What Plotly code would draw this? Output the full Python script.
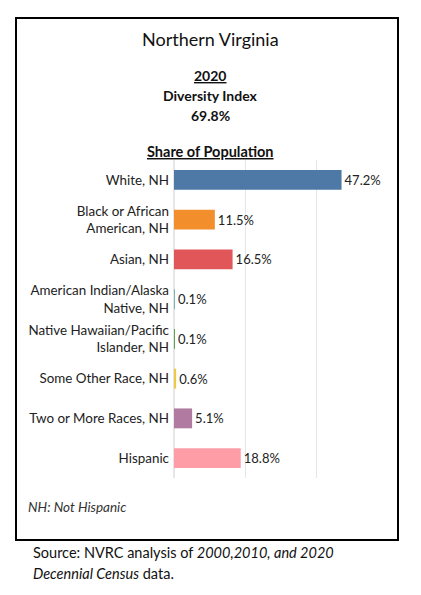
import plotly.graph_objects as go

categories = ["White, NH", "Black or African<br>American, NH", "Asian, NH",
              "American Indian/Alaska<br>Native, NH", "Native Hawaiian/Pacific<br>Islander, NH",
              "Some Other Race, NH", "Two or More Races, NH", "Hispanic"]
values = [47.2, 11.5, 16.5, 0.1, 0.1, 0.6, 5.1, 18.8]
labels = ["47.2%", "11.5%", "16.5%", "0.1%", "0.1%", "0.6%", "5.1%", "18.8%"]
colors = ["#4E79A7", "#F28E2B", "#E15759", "#76B7B2", "#59A14F", "#EDC948", "#B07AA1", "#FF9DA7"]

OFF = 8  # default page margin of the browser body
W, H = 421 - OFF, 595 - OFF
FONT = "Lato, Open Sans, sans-serif"


def xp(px):
    return (px - OFF) / W


def yp(py):
    return 1 - (py - OFF) / H


fig = go.Figure(go.Bar(
    y=categories, x=values, orientation="h",
    marker=dict(color=colors, line=dict(width=0)),
    text=labels, textposition="outside", cliponaxis=False,
    textfont=dict(size=13, color="#222", family=FONT),
    width=0.5,
))

fig.update_layout(
    width=W, height=H, margin=dict(l=0, r=0, t=0, b=0),
    paper_bgcolor="white", plot_bgcolor="white", showlegend=False,
    font=dict(family=FONT, size=13, color="#222"),
    xaxis=dict(domain=[xp(174), xp(387)], range=[0, 60], dtick=20,
               showgrid=True, gridcolor="#E6E6E6", gridwidth=1,
               showticklabels=False, zeroline=True, zerolinecolor="#E6E6E6",
               ticks="", showline=False, fixedrange=True),
    yaxis=dict(domain=[yp(478), yp(160)], autorange="reversed",
               showgrid=False, ticks="", showline=False,
               tickfont=dict(size=13.4, color="#222", family=FONT),
               ticklabelstandoff=4, fixedrange=True),
)

fig.add_shape(type="rect", xref="paper", yref="paper",
              x0=xp(16), x1=xp(398), y0=yp(540), y1=yp(18),
              line=dict(color="black", width=2), fillcolor="rgba(0,0,0,0)")

ann = [
    ("Northern Virginia", 210, 39, 18),
    ("<b><u>2020</u></b>", 210, 76, 14),
    ("<b>Diversity Index</b>", 210, 95, 14),
    ("<b>69.8%</b>", 210, 115, 14),
    ("<b><u>Share of Population</u></b>", 210, 152, 14.5),
]
for t, x, y, s in ann:
    fig.add_annotation(text=t, x=xp(x), y=yp(y),
                       xref="paper", yref="paper", showarrow=False,
                       font=dict(size=s, color="#111", family=FONT),
                       xanchor="center", yanchor="middle")

fig.add_annotation(text="<i>NH: Not Hispanic</i>", x=xp(26), y=yp(507), xref="paper", yref="paper",
                   showarrow=False, xanchor="left", yanchor="middle",
                   font=dict(size=13.5, color="#333", family=FONT))
fig.add_annotation(text="Source: NVRC analysis of <i>2000,2010, and 2020</i>",
                   x=xp(31), y=yp(552), xref="paper", yref="paper", showarrow=False,
                   xanchor="left", yanchor="middle", font=dict(size=14.5, color="#111", family=FONT))
fig.add_annotation(text="<i>Decennial Census</i> data.",
                   x=xp(31), y=yp(573), xref="paper", yref="paper", showarrow=False,
                   xanchor="left", yanchor="middle", font=dict(size=14.5, color="#111", family=FONT))

fig.write_html("out.html")
